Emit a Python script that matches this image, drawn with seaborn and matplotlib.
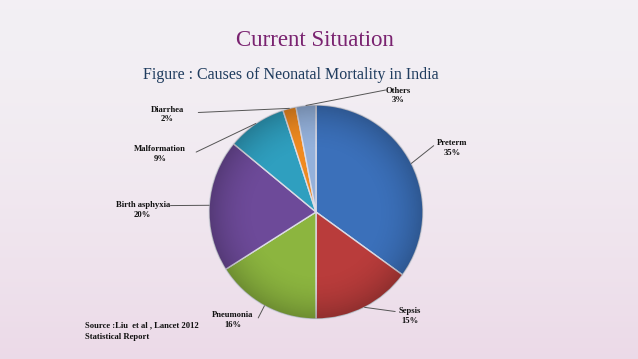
import numpy as np
import matplotlib
matplotlib.use("Agg")
import matplotlib.pyplot as plt
from matplotlib.patches import Circle
import seaborn as sns

# data
causes = ["Preterm", "Sepsis", "Pneumonia", "Birth asphyxia",
          "Malformation", "Diarrhea", "Others"]
shares = [35, 15, 16, 20, 9, 2, 3]
colors = ["#3b70ba", "#b93c3b", "#8cb53f", "#6d4a99", "#2f9fbf", "#ef8a21", "#94b1db"]

# label text centre and leader line start, in pie data units (layout only)
label_pos = {
    "Preterm": (1.27, 0.60),
    "Sepsis": (0.88, -0.97),
    "Pneumonia": (-0.78, -1.01),
    "Birth asphyxia": (-1.62, 0.02),
    "Malformation": (-1.46, 0.54),
    "Diarrhea": (-1.39, 0.91),
    "Others": (0.77, 1.09),
}
line_start = {
    "Preterm": (1.10, 0.62),
    "Sepsis": (0.74, -0.93),
    "Pneumonia": (-0.54, -0.99),
    "Birth asphyxia": (-1.36, 0.06),
    "Malformation": (-1.12, 0.56),
    "Diarrhea": (-1.10, 0.93),
    "Others": (0.65, 1.14),
}

sns.set_theme(style="white")
plt.rcParams["font.family"] = ["Liberation Serif", "DejaVu Serif"]

fig = plt.figure(figsize=(6.38, 3.59), dpi=100)

# slide background: pale lavender fading to pink at the bottom
bg = fig.add_axes([0, 0, 1, 1])
top = np.array([0.953, 0.941, 0.957])
bottom = np.array([0.925, 0.855, 0.910])
t = np.linspace(0, 1, 200)[:, None, None] ** 1.6
grad = top * (1 - t) + bottom * t
grad = np.repeat(grad, 2, axis=1)
bg.imshow(grad, aspect="auto", extent=[0, 1, 0, 1])
bg.set_axis_off()

fig.text(0.494, 0.888, "Current Situation", ha="center", va="center",
         fontsize=16.5, color="#7a2370")
fig.text(0.456, 0.792, "Figure : Causes of Neonatal Mortality in India",
         ha="center", va="center", fontsize=11.5, color="#1f3c5e")

ax = fig.add_axes([(316 - 107) / 638, (359 - 212 - 107) / 359, 214 / 638, 214 / 359])
wedges, _ = ax.pie(shares, colors=colors, startangle=90, counterclock=False,
                   radius=1, wedgeprops=dict(edgecolor="#dcdce6", linewidth=1.0))
ax.set_xlim(-1, 1)
ax.set_ylim(-1, 1)
ax.set_aspect("equal")
ax.set_axis_off()

# soft rim shading like the slide's 3d pie
yy, xx = np.mgrid[-1:1:300j, -1:1:300j]
rr = np.hypot(xx, yy)
shade = np.zeros((300, 300, 4))
shade[..., 3] = np.clip((rr - 0.55) / 0.45, 0, 1) ** 2 * 0.22
img = ax.imshow(shade, extent=[-1, 1, -1, 1], zorder=3)
img.set_clip_path(Circle((0, 0), 1, transform=ax.transData))
for w in wedges:
    w.set_zorder(2)

for w, name, pct in zip(wedges, causes, shares):
    ang = np.deg2rad((w.theta1 + w.theta2) / 2)
    ex, ey = np.cos(ang), np.sin(ang)
    sx, sy = line_start[name]
    ax.plot([sx, ex], [sy, ey], color="#555555", lw=0.7, clip_on=False, zorder=4)
    lx, ly = label_pos[name]
    ax.text(lx, ly, f"{name}\n{pct}%", ha="center", va="center", fontsize=6.2,
            fontweight="bold", color="#111111", linespacing=1.25, clip_on=False)

fig.text(0.133, 0.078, "Source :Liu  et al , Lancet 2012\nStatistical Report",
         ha="left", va="center", fontsize=6.2, fontweight="bold", color="#111111",
         linespacing=1.6)

fig.savefig("out.png", dpi=100)
